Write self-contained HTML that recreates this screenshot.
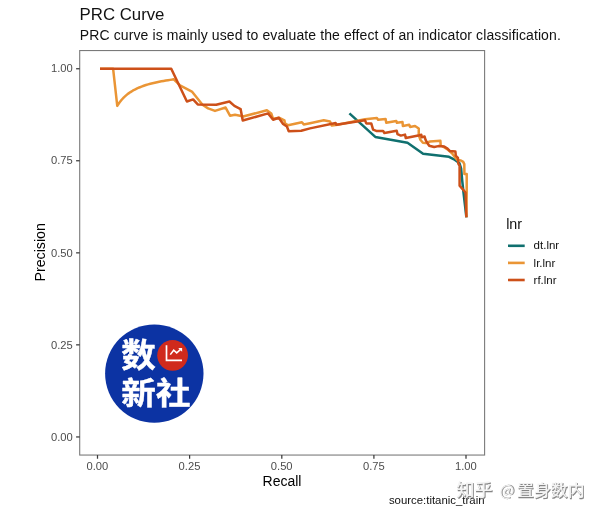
<!DOCTYPE html>
<html>
<head>
<meta charset="utf-8">
<title>PRC Curve</title>
<style>
html,body{margin:0;padding:0;background:#fff;}
body{width:600px;height:514px;overflow:hidden;}
svg{display:block;will-change:transform;}
text{font-family:"Liberation Sans","Noto Sans CJK SC",sans-serif;}
.tick{font-size:11.2px;fill:#4d4d4d;}
.ax{font-size:14px;fill:#000;}
.cjk{font-family:"Noto Sans CJK SC","Liberation Sans",sans-serif;}
</style>
</head>
<body>
<svg width="600" height="514" viewBox="0 0 600 514">
<defs>
<filter id="wmblur" x="-5%" y="-20%" width="110%" height="140%"><feGaussianBlur stdDeviation="0.6"/></filter>
</defs>
<rect x="0" y="0" width="600" height="514" fill="#ffffff"/>

<!-- titles -->
<text x="79.6" y="19.5" font-size="16.8" fill="#111">PRC Curve</text>
<text x="79.8" y="40.4" font-size="14" fill="#111" textLength="481" lengthAdjust="spacing">PRC curve is mainly used to evaluate the effect of an indicator classification.</text>

<g transform="translate(0.1,0.35)">
<!-- panel -->
<rect x="79.6" y="50.2" width="404.9" height="404.5" fill="#ffffff" stroke="#7a7a7a" stroke-width="1.1"/>

<!-- y ticks -->
<g stroke="#3a3a3a" stroke-width="1.25">
<line x1="76" x2="79.6" y1="68.4" y2="68.4"/>
<line x1="76" x2="79.6" y1="160.4" y2="160.4"/>
<line x1="76" x2="79.6" y1="252.5" y2="252.5"/>
<line x1="76" x2="79.6" y1="344.5" y2="344.5"/>
<line x1="76" x2="79.6" y1="436.6" y2="436.6"/>
<line y1="454.7" y2="458.4" x1="97.4" x2="97.4"/>
<line y1="454.7" y2="458.4" x1="189.5" x2="189.5"/>
<line y1="454.7" y2="458.4" x1="281.7" x2="281.7"/>
<line y1="454.7" y2="458.4" x1="373.8" x2="373.8"/>
<line y1="454.7" y2="458.4" x1="465.9" x2="465.9"/>
</g>
</g>
<g class="tick" text-anchor="end">
<text x="72.8" y="72.4">1.00</text>
<text x="72.8" y="164.4">0.75</text>
<text x="72.8" y="256.5">0.50</text>
<text x="72.8" y="348.5">0.25</text>
<text x="72.8" y="440.6">0.00</text>
</g>
<g class="tick" text-anchor="middle">
<text x="97.4" y="470">0.00</text>
<text x="189.5" y="470">0.25</text>
<text x="281.7" y="470">0.50</text>
<text x="373.8" y="470">0.75</text>
<text x="465.9" y="470">1.00</text>
</g>
<text class="ax" x="282" y="486" text-anchor="middle">Recall</text>
<text class="ax" transform="translate(44.5,252.3) rotate(-90)" text-anchor="middle" font-size="14.2" style="font-size:14.2px">Precision</text>
<text x="484.5" y="503.9" font-size="11.4" fill="#111" text-anchor="end">source:titanic_train</text>

<!-- curves -->
<g transform="translate(0,0.3)" fill="none" stroke-width="2.5" stroke-linejoin="round" stroke-linecap="butt">
<path id="dt" stroke="#10706f" d="M349.4,113.1 L375.3,136.6 L407.5,142.5 L423.1,153.5 L449,156.5 L454,159 L459.5,163 L461.1,168 L462.3,181 L463.3,190.5 L466.4,217"/>
<path id="lr" stroke="#ea9535" d="M100,68.4 L113.1,68.4 L117.26,105.58 L119.47,102.23 L121.67,99.44 L123.88,97.08 L126.09,95.06 L128.29,93.30 L130.50,91.77 L132.71,90.41 L134.91,89.21 L137.12,88.13 L139.33,87.17 L141.53,86.29 L143.74,85.49 L145.94,84.76 L148.15,84.10 L150.36,83.48 L152.56,82.92 L154.77,82.39 L156.98,81.90 L159.18,81.45 L161.39,81.03 L163.60,80.63 L165.80,80.26 L168.01,79.91 L170.22,79.58 L172.42,79.27 L173.75,79 L180,85 L191.9,91.25 L202.5,104.4 L208.1,108.1 L215,110.6 L225.6,107.25 L230,115.4 L235,114.4 L241.25,115.6 L243.1,116.25 L266.9,110 L271.25,113.1 L273.1,118.5 L279.4,117.5 L284.4,120 L285,123.1 L288.1,125 L301.9,121.9 L303.75,124.1 L310,122.9 L323.75,120 L330,121.25 L331.9,125.3 L335.6,124.8 L337.5,124.4 L365,119 L376.9,117.8 L378.1,119.4 L385.6,118.75 L386.25,122.5 L396.25,120.6 L396.9,122.5 L402.5,121.8 L402.9,125.75 L409.2,124.5 L410,126.6 L415,125.75 L418.75,128.25 L418.75,134.5 L420.4,139.5 L422.9,142.4 L425.8,142.8 L430,141.2 L440.4,140.5 L440.7,145.2 L444,146.8 L448,149.5 L452,153 L455,157 L457.2,159.6 L460.9,160.2 L463.2,161.6 L464.3,163.8 L464.4,173.6 L466.7,173.6 L466.7,192 L466.4,217"/>
<path id="rf" stroke="#cd5019" d="M100,68.4 L171.25,68.4 L186.9,101.25 L193.1,99.1 L197.75,104.1 L216.25,104.4 L229.4,101.25 L234.4,105.6 L240.6,108.75 L242.75,120.25 L268.1,113.1 L273.1,119.4 L278.75,117.5 L283.1,123.75 L286.9,126.25 L288.75,131 L301.25,130.4 L310,128.1 L335.6,122.75 L336.25,124.4 L365,120 L366.25,123.1 L371.25,123.1 L373.1,129.4 L376.25,130.6 L383.1,130.6 L384.4,132.75 L396.7,130.5 L397.5,133.8 L400.8,135.3 L405,134.3 L405.8,137.8 L418.3,135.3 L421.3,134.5 L421.7,137 L424.6,136.2 L425.4,139.1 L426.7,141.7 L429.2,145.5 L434.2,146.7 L438.3,145.8 L444.2,146.25 L447.5,148.3 L450,150.8 L455.4,151.25 L455.8,155.4 L457.9,157.5 L458.3,163.3 L459.6,165.5 L459.6,185.3 L465.5,192.2 L466.4,217"/>
</g>

<!-- logo -->
<g id="logo">
<circle cx="154.3" cy="373.6" r="49.2" fill="#0c33a3"/>
<g fill="#fff" stroke="#fff" stroke-width="0.45" stroke-linejoin="round" font-weight="700">
<text class="cjk" x="121.3" y="368" font-size="34.6" font-weight="700" transform="translate(0,354) scale(1,0.94) translate(0,-354)">数</text>
<text class="cjk" x="121.3" y="405" font-size="34.6" font-weight="700" transform="translate(0,391.5) scale(1,0.895) translate(0,-391.5)">新社</text>
</g>
<circle cx="172.6" cy="355.3" r="15.4" fill="#d02a1c"/>
<g fill="none" stroke="#fff" stroke-width="1.7">
<path d="M166.5,345.3 L166.5,360.4 L182,360.4"/>
</g>
<g fill="none" stroke="#fff" stroke-width="1.55" stroke-linejoin="miter">
<path d="M170.3,354.6 L173.7,350.2 L176.7,352.9 L180.6,349.4"/>
</g>
<path d="M178.2,347.9 L182.1,347.9 L182.1,351.8 Z" fill="#fff"/>
</g>

<!-- legend -->
<text x="506.2" y="228.6" font-size="14.3" fill="#111">lnr</text>
<g fill="none" stroke-width="2.6">
<line x1="508" x2="524.7" y1="245.8" y2="245.8" stroke="#10706f"/>
<line x1="508" x2="524.7" y1="262.9" y2="262.9" stroke="#ea9535"/>
<line x1="508" x2="524.7" y1="280" y2="280" stroke="#cd5019"/>
</g>
<g font-size="11.5" fill="#111">
<text x="533.6" y="249.4">dt.lnr</text>
<text x="533.6" y="266.5">lr.lnr</text>
<text x="533.6" y="283.6">rf.lnr</text>
</g>

<!-- watermark -->
<g class="cjk" font-weight="500" transform="translate(0,496) scale(1,0.93) translate(0,-496)">
<g fill="#858585" stroke="#858585" stroke-width="0.35" filter="url(#wmblur)">
<text class="cjk" x="457.2" y="496.6" font-size="18">知乎</text>
<text class="cjk" x="500.3" y="496.2" font-size="15.4">@</text>
<text class="cjk" x="517.8" y="496.6" font-size="16.9">置身数内</text>
</g>
<g fill="#f3f3f3">
<text class="cjk" x="456.5" y="495.9" font-size="18">知乎</text>
<text class="cjk" x="499.6" y="495.5" font-size="15.4">@</text>
<text class="cjk" x="517.1" y="495.9" font-size="16.9">置身数内</text>
</g>
</g>
</svg>
</body>
</html>
